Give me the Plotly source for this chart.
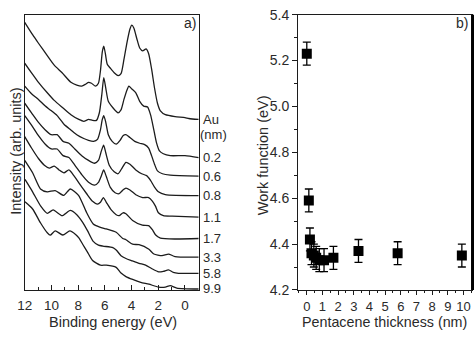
import plotly.graph_objects as go

# ---------------- Panel a) UPS spectra (binding energy in eV, intensity in arb. units) ----------------
labels = ["Au", "0.2", "0.6", "0.8", "1.1", "1.7", "3.3", "5.8", "9.9"]

e_au = [12.0, 11.41, 10.97, 10.31, 9.79, 9.20, 8.54, 8.10, 7.73, 7.44, 7.22, 7.00, 6.70, 6.48, 6.33, 6.19, 6.08, 5.96, 5.82, 5.60, 5.30, 5.01, 4.79, 4.57, 4.34, 4.12, 3.98, 3.83, 3.61, 3.39, 3.17, 2.91, 2.72, 2.50, 2.28, 2.06, 1.84, 1.47, 0.74, 0.0, -0.29, -1.03]
i_au = [281, 268, 259, 246, 236, 228, 218, 215, 214, 216, 218, 217, 214, 217, 230, 250, 256, 248, 237, 233, 228, 225, 227, 242, 260, 274, 278, 275, 264, 254, 251, 253, 248, 232, 212, 196, 188, 184, 182, 181, 180, 179]

e_02 = [12.0, 11.49, 10.97, 10.31, 9.79, 9.13, 8.54, 7.95, 7.58, 7.22, 6.92, 6.63, 6.41, 6.22, 6.08, 5.93, 5.74, 5.38, 5.01, 4.79, 4.57, 4.34, 4.20, 3.98, 3.68, 3.39, 3.09, 2.80, 2.58, 2.36, 2.14, 1.91, 1.62, 1.10, 0.0, -1.03]
i_02 = [238, 228, 218, 207, 199, 191, 184, 179, 177, 179, 178, 178, 186, 206, 223, 212, 198, 191, 186, 189, 200, 210, 214, 211, 207, 198, 193, 192, 184, 170, 155, 146, 143, 141, 141, 139]

e_06 = [12.0, 11.49, 10.97, 10.46, 10.09, 9.57, 9.06, 8.54, 8.10, 7.58, 7.22, 6.85, 6.55, 6.33, 6.19, 6.08, 5.93, 5.74, 5.45, 5.15, 4.86, 4.64, 4.42, 4.12, 3.76, 3.39, 3.02, 2.72, 2.50, 2.28, 2.06, 1.69, 1.10, -1.03]
i_06 = [214, 206, 200, 193, 189, 183, 174, 168, 163, 159, 157, 156, 158, 168, 179, 183, 176, 163, 156, 153, 157, 162, 163, 160, 156, 154, 152.5, 149, 141, 132, 125, 122, 120.5, 119.5]

e_08 = [12.0, 11.49, 10.97, 10.46, 10.01, 9.57, 9.13, 8.69, 8.25, 7.73, 7.22, 6.77, 6.48, 6.26, 6.09, 5.93, 5.67, 5.30, 5.01, 4.71, 4.42, 4.12, 3.68, 3.24, 2.87, 2.58, 2.28, 1.99, 1.47, -1.03]
i_08 = [196, 186, 176, 168, 163, 163, 156, 154, 148, 141, 136, 133, 136, 146, 152, 144, 131, 124, 122, 128, 134, 132, 126, 122, 120, 115, 108, 103, 100, 99]

e_11 = [12.0, 11.49, 10.97, 10.46, 10.01, 9.57, 9.13, 8.69, 8.25, 7.73, 7.22, 6.77, 6.48, 6.26, 6.09, 5.89, 5.60, 5.23, 4.93, 4.64, 4.42, 4.12, 3.68, 3.17, 2.72, 2.43, 2.21, 1.99, 1.62, 0.96, -1.03]
i_11 = [183, 173, 162, 153, 148, 148, 141, 139, 131, 121, 113, 110, 113, 120, 126, 119, 108, 102, 101, 105, 107, 105, 100, 97, 97, 93, 88, 81, 78, 77.5, 76.5]

e_17 = [12.0, 11.49, 10.97, 10.53, 10.16, 9.79, 9.43, 9.06, 8.69, 8.32, 7.88, 7.36, 6.92, 6.55, 6.33, 6.11, 5.89, 5.52, 5.15, 4.93, 4.64, 4.42, 3.92, 3.19, 2.72, 2.43, 2.21, 1.84, 0.74, -1.03]
i_17 = [161, 149, 138, 131, 128, 130, 126, 123, 126, 120, 111, 101, 93, 90, 92, 97, 92, 84, 79, 78, 81, 80, 73, 68, 67.5, 63, 58, 54.5, 53.5, 54]

e_33 = [12.0, 11.41, 10.82, 10.31, 9.72, 9.08, 8.59, 7.97, 7.36, 6.87, 6.38, 5.89, 5.15, 4.66, 4.42, 3.92, 3.44, 2.70, 2.33, 1.72, 1.23, 0.74, -1.03]
i_33 = [136, 123, 106, 103, 104.3, 99.3, 106, 99.3, 81, 69.3, 66, 64, 60.5, 54, 52.7, 48, 47.5, 42.7, 37.7, 36, 37.7, 35, 34.5]

e_58 = [11.98, 11.41, 10.80, 10.31, 9.87, 9.20, 8.59, 8.10, 7.66, 7.29, 6.87, 6.48, 6.14, 5.40, 5.15, 4.79, 4.42, 3.93, 3.44, 2.95, 2.50, 1.97, 1.62, 1.23, 0.88, 0.49, -1.03]
i_58 = [116, 103, 88, 80.5, 84, 78, 83.5, 79, 71, 62, 51, 47, 46, 44.5, 42, 36, 33, 30.5, 28, 26, 22.5, 19, 19.5, 21, 18.5, 17.5, 17.5]

e_99 = [11.98, 11.41, 10.80, 10.31, 10.09, 9.72, 9.15, 8.62, 8.17, 7.93, 7.66, 7.31, 6.92, 6.33, 5.89, 5.15, 4.79, 4.42, 3.92, 3.31, 2.70, 1.97, 1.47, 1.10, 0.61, -1.03]
i_99 = [92.5, 85, 70, 60, 57.5, 62, 57.7, 62, 58, 54.3, 48, 40, 31, 26, 26, 23.7, 17.7, 14, 11, 8, 6, 3, 3, 4.5, 2, 1]

energies = [e_au, e_02, e_06, e_08, e_11, e_17, e_33, e_58, e_99]
intensities = [i_au, i_02, i_06, i_08, i_11, i_17, i_33, i_58, i_99]

# ---------------- Panel b) work function vs pentacene thickness ----------------
thickness = [0, 0.13, 0.2, 0.3, 0.45, 0.6, 0.8, 1.1, 1.7, 3.3, 5.8, 9.9]
work_function = [5.23, 4.59, 4.42, 4.36, 4.35, 4.34, 4.33, 4.33, 4.34, 4.37, 4.36, 4.35]
wf_error = [0.05] * len(thickness)

W, H = 474, 337
INK = "#1c1c1c"
TXT = "#2a2a2a"
FONT = "Liberation Sans, Arial, sans-serif"

def px(x):
    return x / W

def py(y):
    return 1 - y / H

fig = go.Figure()

for e, i in zip(energies, intensities):
    fig.add_trace(go.Scatter(x=e, y=i, mode="lines", xaxis="x", yaxis="y",
                             line=dict(color=INK, width=1.3, shape="spline", smoothing=0.6),
                             showlegend=False, hoverinfo="skip"))

fig.add_trace(go.Scatter(x=thickness, y=work_function, mode="markers", xaxis="x2", yaxis="y2",
                         marker=dict(symbol="square", size=10, color="black"),
                         error_y=dict(type="data", array=wf_error, color="black", thickness=1.3, width=4),
                         showlegend=False))

axis_common = dict(showgrid=False, zeroline=False, showline=True, linecolor=INK, linewidth=1,
                   mirror=True, tickcolor=INK, ticklabeloverflow="allow")

fig.update_layout(
    width=W, height=H, margin=dict(l=0, r=0, t=0, b=0),
    paper_bgcolor="white", plot_bgcolor="white",
    xaxis=dict(domain=[px(17), px(194)], range=[12, -1.03], anchor="y",
               tickmode="array", tickvals=[12, 10, 8, 6, 4, 2, 0], ticks="inside", ticklen=5,
               ticklabelstandoff=3, tickfont=dict(family=FONT, size=13.5, color=TXT),
               minor=dict(tickvals=[11, 9, 7, 5, 3, 1, -1], ticks="inside", ticklen=3, tickcolor=INK),
               **axis_common),
    yaxis=dict(domain=[py(296), py(7)], range=[0, 289], anchor="x", showticklabels=False, ticks="",
               **axis_common),
    xaxis2=dict(domain=[px(295), px(472)], range=[-0.56, 10.55], anchor="y2",
                tickmode="array", tickvals=list(range(0, 11)), ticks="outside", ticklen=4,
                ticklabelstandoff=0, tickfont=dict(family=FONT, size=13, color=TXT),
                minor=dict(dtick=0.5, ticks="outside", ticklen=2.5, tickcolor=INK),
                **axis_common),
    yaxis2=dict(domain=[py(296), py(7)], range=[4.19999, 5.40001], anchor="x2",
                tickmode="array", tickvals=[4.2, 4.4, 4.6, 4.8, 5.0, 5.2, 5.4],
                ticktext=["4.2", "4.4", "4.6", "4.8", "5.0", "5.2", "5.4"],
                ticks="outside", ticklen=5, tickfont=dict(family=FONT, size=14, color=TXT),
                minor=dict(dtick=0.1, ticks="outside", ticklen=3, tickcolor=INK),
                **axis_common),
)

ann = []
# curve labels at the right of panel a)
for lab, i in zip(labels, intensities):
    ann.append(dict(x=px(196), xref="paper", y=i[-1], yref="y", text=lab, showarrow=False,
                    xanchor="left", yanchor="middle", font=dict(family=FONT, size=13, color=TXT)))
ann.append(dict(x=px(193), xref="paper", y=py(133), yref="paper", text="(nm)", showarrow=False,
                xanchor="left", yanchor="middle", font=dict(family=FONT, size=13, color=TXT)))
ann.append(dict(x=px(185), xref="paper", y=py(16), yref="paper", text="a)", showarrow=False,
                xanchor="center", yanchor="middle", font=dict(family=FONT, size=14, color=TXT)))
ann.append(dict(x=px(462), xref="paper", y=py(16), yref="paper", text="b)", showarrow=False,
                xanchor="center", yanchor="middle", font=dict(family=FONT, size=14, color=TXT)))
# axis titles
ann.append(dict(x=px(107), xref="paper", y=py(330), yref="paper", text="Binding energy (eV)",
                showarrow=False, xanchor="center", yanchor="middle",
                font=dict(family=FONT, size=14.5, color=TXT)))
ann.append(dict(x=px(383), xref="paper", y=py(330), yref="paper", text="Pentacene thickness (nm)",
                showarrow=False, xanchor="center", yanchor="middle",
                font=dict(family=FONT, size=14.3, color=TXT)))
ann.append(dict(x=px(8), xref="paper", y=py(150), yref="paper", text="Intensity (arb. units)",
                showarrow=False, xanchor="center", yanchor="middle", textangle=-90,
                font=dict(family=FONT, size=14.5, color=TXT)))
ann.append(dict(x=px(259), xref="paper", y=py(155), yref="paper", text="Work function (eV)",
                showarrow=False, xanchor="center", yanchor="middle", textangle=-90,
                font=dict(family=FONT, size=14.5, color=TXT)))
fig.update_layout(annotations=ann)

fig.add_shape(type="line", xref="paper", yref="paper", x0=px(472.5), x1=px(472.5), y0=py(296), y1=py(7),
              line=dict(color="black", width=3))

fig.write_html("out.html")
